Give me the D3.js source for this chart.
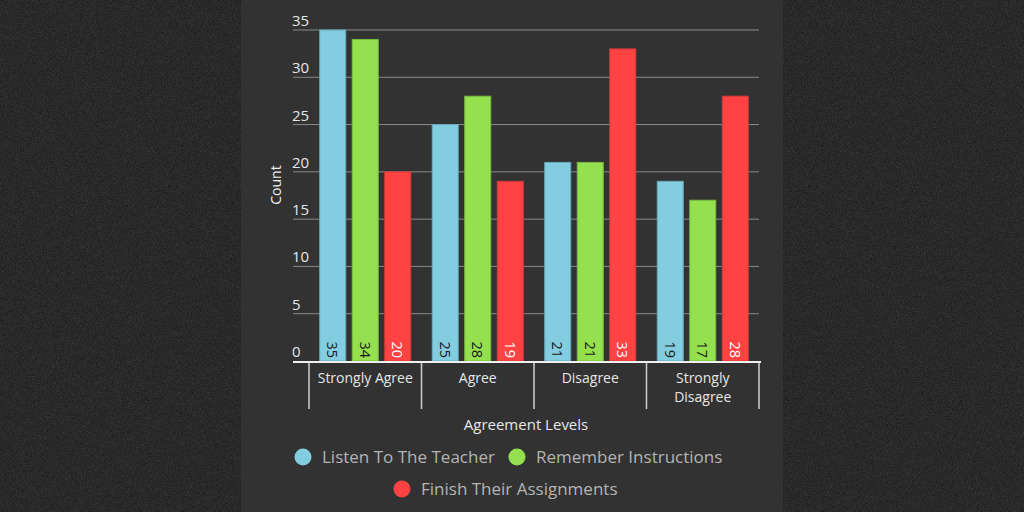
<!DOCTYPE html>
<html>
<head>
<meta charset="utf-8">
<script src="https://cdn.jsdelivr.net/npm/d3@7"></script>
<style>
  html, body { margin: 0; padding: 0; background: #1f1f1f; }
  svg { display: block; }
</style>
</head>
<body>
<div id="paper"></div>
<script>
// chart data

const categories = ['Strongly Agree', 'Agree', 'Disagree', 'Strongly Disagree']
const seriesNames = ['Listen To The Teacher', 'Remember Instructions', 'Finish Their Assignments']
const listenValues = [35, 25, 21, 19]
const rememberValues = [34, 28, 21, 17]
const finishValues = [20, 19, 33, 28]
const yTicks = [0, 5, 10, 15, 20, 25, 30, 35]

const colors = ['#82cddf', '#95e04f', '#ff4343']
const strokes = ['#6aa9b8', '#7bbb40', '#d63a3a']
const labelColors = ['#1a1a1a', '#1a1a1a', '#ffffff']
const font = "'Open Sans', 'Noto Sans', sans-serif"

const rows = categories.map((c, i) => ({
    category: c,
    values: [listenValues[i], rememberValues[i], finishValues[i]]
}))

// svg

const svg = d3.select('#paper')
    .append('svg')
    .attr('id', 'canvas')
    .attr('width', 1024)
    .attr('height', 512)

// textured backdrop

const defs = svg.append('defs')
const noise = defs.append('filter').attr('id', 'noise')
    .attr('x', 0).attr('y', 0).attr('width', '100%').attr('height', '100%')
noise.append('feTurbulence')
    .attr('type', 'fractalNoise')
    .attr('baseFrequency', 1.2)
    .attr('numOctaves', 2)
    .attr('seed', 4)
noise.append('feColorMatrix')
    .attr('type', 'matrix')
    .attr('values', '0 0 0 0 0.2  0 0 0 0 0.2  0 0 0 0 0.2  0 0 0 -1.2 1')

svg.append('rect').attr('width', 1024).attr('height', 512).attr('fill', '#1c1c1c')
svg.append('rect').attr('width', 1024).attr('height', 512).attr('filter', 'url(#noise)').style('opacity', 0.35)

// chart panel

svg.append('rect')
    .attr('x', 241).attr('y', 0)
    .attr('width', 542).attr('height', 512)
    .attr('fill', '#323232')

// scales

const x0 = d3.scaleBand().domain(categories).range([309, 759]).paddingInner(0).paddingOuter(0)
const x1 = d3.scaleBand().domain(d3.range(seriesNames.length)).range([0, x0.bandwidth()])
    .paddingInner(0.2).paddingOuter(0.33)
const y = d3.scaleLinear().domain([0, 35]).range([361, 30])

// grid + y tick labels

const grid = svg.append('g')
grid.selectAll('line')
    .data(yTicks.filter(d => d > 0))
    .join('line')
    .attr('x1', 293).attr('x2', 759)
    .attr('y1', d => y(d)).attr('y2', d => y(d))
    .style('stroke', '#8a8a8a')
    .style('stroke-width', 1)

grid.selectAll('text')
    .data(yTicks)
    .join('text')
    .attr('x', 292)
    .attr('y', d => y(d) - 4)
    .attr('font-family', font)
    .attr('font-size', '15px')
    .style('fill', '#e6e6e6')
    .text(d => d)

svg.append('text')
    .attr('transform', 'translate(281,185) rotate(-90)')
    .attr('text-anchor', 'middle')
    .attr('font-family', font)
    .attr('font-size', '14px')
    .style('fill', '#eeeeee')
    .text('Count')

// bars

const groups = svg.append('g').selectAll('g')
    .data(rows)
    .join('g')
    .attr('transform', d => `translate(${x0(d.category)},0)`)

groups.selectAll('rect')
    .data(d => d.values)
    .join('rect')
    .attr('x', (d, i) => x1(i))
    .attr('y', d => y(d))
    .attr('width', x1.bandwidth())
    .attr('height', d => y(0) - y(d))
    .attr('fill', (d, i) => colors[i])
    .attr('stroke', (d, i) => strokes[i])
    .attr('stroke-width', 1)

groups.selectAll('text')
    .data(d => d.values)
    .join('text')
    .attr('transform', (d, i) => `translate(${x1(i) + x1.bandwidth() / 2 - 5.5},${y(0) - 3}) rotate(90)`)
    .attr('text-anchor', 'end')
    .attr('font-family', font)
    .attr('font-size', '14.5px')
    .style('fill', (d, i) => labelColors[i])
    .text(d => d)

// x axis

const xAxis = svg.append('g')
xAxis.append('line')
    .attr('x1', 293).attr('x2', 761)
    .attr('y1', y(0) + 1).attr('y2', y(0) + 1)
    .style('stroke', '#f0f0f0')
    .style('stroke-width', 2)

xAxis.selectAll('line.sep')
    .data(categories.concat(['end']))
    .join('line')
    .attr('class', 'sep')
    .attr('x1', (d, i) => i < categories.length ? x0(d) : x0.range()[1])
    .attr('x2', (d, i) => i < categories.length ? x0(d) : x0.range()[1])
    .attr('y1', y(0) + 2).attr('y2', 409)
    .style('stroke', '#d0d0d0')
    .style('stroke-width', 1.5)

const catLabels = {
    'Strongly Agree': ['Strongly Agree'],
    'Agree': ['Agree'],
    'Disagree': ['Disagree'],
    'Strongly Disagree': ['Strongly', 'Disagree']
}

xAxis.selectAll('text.cat')
    .data(categories)
    .join('text')
    .attr('class', 'cat')
    .attr('x', d => x0(d) + x0.bandwidth() / 2)
    .attr('y', 383)
    .attr('text-anchor', 'middle')
    .attr('font-family', font)
    .attr('font-size', '14px')
    .style('fill', '#e6e6e6')
    .each(function (d) {
        d3.select(this).selectAll('tspan')
            .data(catLabels[d])
            .join('tspan')
            .attr('x', x0(d) + x0.bandwidth() / 2)
            .attr('dy', (t, i) => i === 0 ? 0 : 19)
            .text(t => t)
    })

svg.append('text')
    .attr('x', 526).attr('y', 430)
    .attr('text-anchor', 'middle')
    .attr('font-family', font)
    .attr('font-size', '15px')
    .style('fill', '#e6e6e6')
    .text('Agreement Levels')

// legend

const legendPos = [[303, 457], [517, 457], [402, 489]]

const legend = svg.append('g').selectAll('g')
    .data(seriesNames)
    .join('g')
    .attr('transform', (d, i) => `translate(${legendPos[i][0]},${legendPos[i][1]})`)

legend.append('circle')
    .attr('r', 8.5)
    .attr('fill', (d, i) => colors[i])

legend.append('text')
    .attr('x', 19)
    .attr('y', 6)
    .attr('font-family', font)
    .attr('font-size', '17px')
    .style('fill', '#b4b4b4')
    .text(d => d)
</script>
</body>
</html>
